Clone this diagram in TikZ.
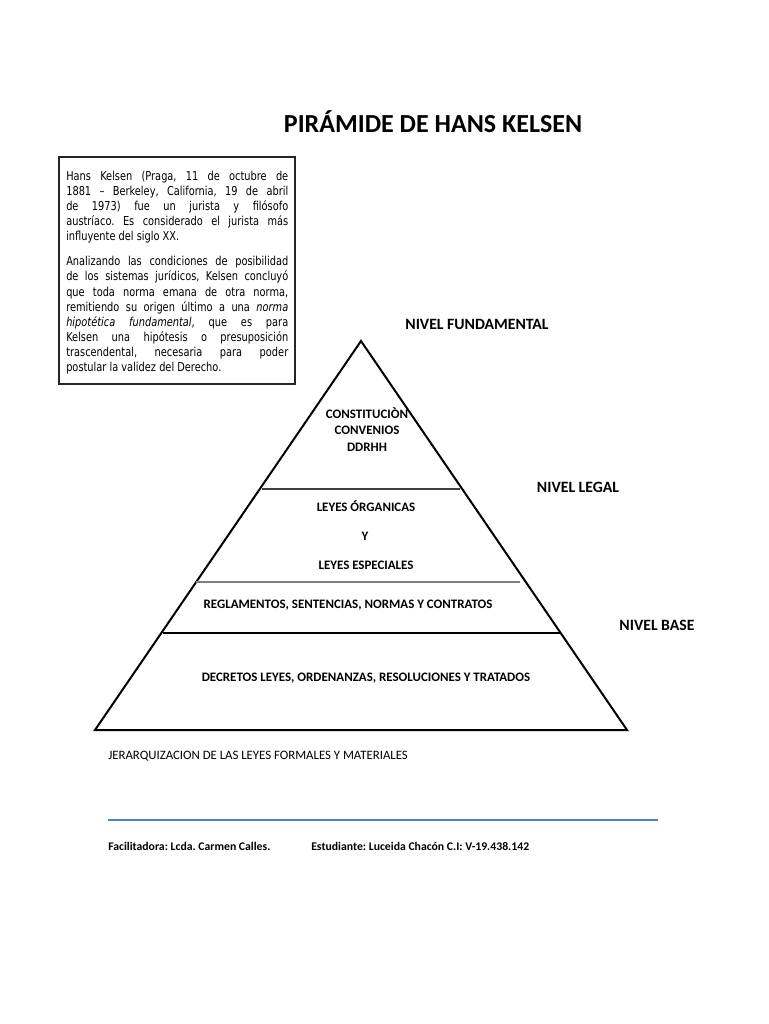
\documentclass[tikz,border=0pt]{standalone}
\usepackage{fontspec}
\setmainfont{Carlito}
\newfontfamily\boxfont[FakeStretch=0.8]{DejaVu Sans}
\newcommand\jl[1]{\makebox[166.5pt][s]{#1}}
\frenchspacing
\begin{document}
\begin{tikzpicture}[x=0.75pt,y=-0.75pt,
  title/.style={font=\bfseries\fontsize{19.5}{22}\selectfont, inner sep=0},
  lbl/.style={font=\bfseries\fontsize{9.7}{11}\selectfont, inner sep=0},
  lvl/.style={font=\bfseries\fontsize{11.8}{13}\selectfont, inner sep=0},
  foot/.style={font=\bfseries\fontsize{8.8}{10}\selectfont, inner sep=0, anchor=west},
  tier/.style={line width=0.9pt},
  pyr/.style={line width=1.5pt, line join=miter}]
\useasboundingbox (0,0) rectangle (768,1024);
\fill[white] (0,0) rectangle (768,1024);

% title
\node[title] (ttl) at (433,122) {PIRÁMIDE DE HANS KELSEN};

% text box
\draw[line width=1.1pt, black!85] (59,157) rectangle (295,384);
\node[anchor=north west, inner sep=0, align=left,
      font=\boxfont\fontsize{9.2}{11.3}\selectfont] (bio) at (66,171) {%
\jl{Hans Kelsen (Praga, 11 de octubre de}\\
\jl{1881 – Berkeley, California, 19 de abril}\\
\jl{de 1973) fue un jurista y filósofo}\\
\jl{austríaco. Es considerado el jurista más}\\
influyente del siglo XX.\\[7.5pt]
\jl{Analizando las condiciones de posibilidad}\\
\jl{de los sistemas jurídicos, Kelsen concluyó}\\
\jl{que toda norma emana de otra norma,}\\
\jl{remitiendo su origen último a una \textit{norma}}\\
\jl{\textit{hipotética fundamental}, que es para}\\
\jl{Kelsen una hipótesis o presuposición}\\
\jl{trascendental, necesaria para poder}\\
postular la validez del Derecho.};

% pyramid
\coordinate (apex) at (361,341);
\coordinate (bl) at (95,730);
\coordinate (br) at (627,730);
\draw[pyr] (apex) -- (bl) -- (br) -- cycle;
\coordinate (l1a) at (262,489); \coordinate (l1b) at (460,489);
\coordinate (l2a) at (196,582); \coordinate (l2b) at (520,582);
\coordinate (l3a) at (163,633); \coordinate (l3b) at (560,633);
\draw[tier, black!75] (l1a) -- (l1b);
\draw[tier, black!50] (l2a) -- (l2b);
\draw[tier, black] (l3a) -- (l3b);

\node[lbl] (c1) at (367,413) {CONSTITUCIÒN};
\node[lbl] (c2) at (367,430) {CONVENIOS};
\node[lbl] (c3) at (367,447) {DDRHH};
\node[lbl] (o1) at (366,506) {LEYES ÓRGANICAS};
\node[lbl] (o2) at (365,536) {Y};
\node[lbl] (o3) at (366,565) {LEYES ESPECIALES};
\node[lbl] (r1) at (348,605) {REGLAMENTOS, SENTENCIAS, NORMAS Y CONTRATOS};
\node[lbl] (d1) at (366,678) {DECRETOS LEYES, ORDENANZAS, RESOLUCIONES Y TRATADOS};

\node[lvl] (nf) at (477,324) {NIVEL FUNDAMENTAL};
\node[lvl] (nl) at (578,487) {NIVEL LEGAL};
\node[lvl] (nb) at (657,625) {NIVEL BASE};

% caption and footer
\node[anchor=west, inner sep=0, font=\fontsize{9.6}{11}\selectfont] (cap) at (108,756)
  {JERARQUIZACION DE LAS LEYES FORMALES Y MATERIALES};
\coordinate (ruleA) at (108,820); \coordinate (ruleB) at (658,820);
\draw[line width=1.1pt, color={rgb,255:red,79;green,129;blue,189}] (ruleA) -- (ruleB);
\node[foot] (fac) at (108,846) {Facilitadora: Lcda. Carmen Calles.};
\node[foot] (est) at (311,846) {Estudiante: Luceida Chacón C.I: V-19.438.142};
\end{tikzpicture}
\end{document}
